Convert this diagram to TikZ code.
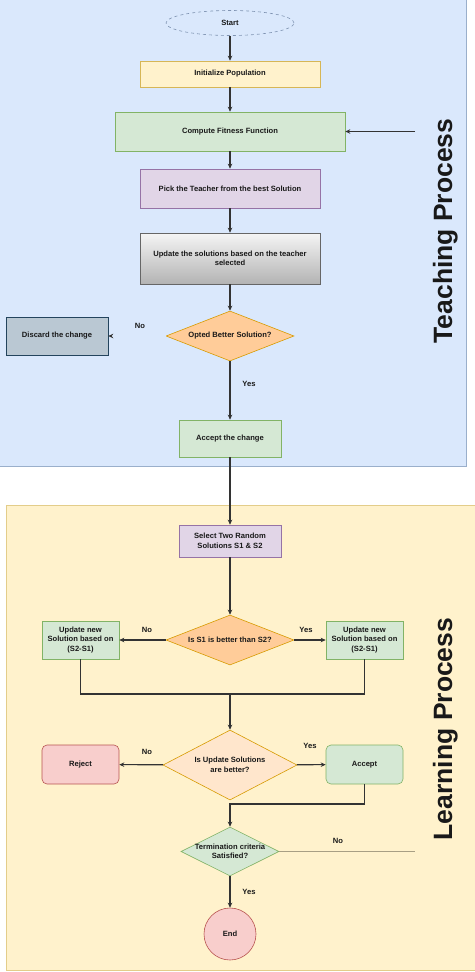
\documentclass[tikz,border=0pt]{standalone}
\usepackage{fontspec}
\setmainfont{Liberation Sans}
\usetikzlibrary{arrows.meta,positioning,shapes.geometric}
\definecolor{tlteachbg}{HTML}{DAE8FC}
\definecolor{tlteachbd}{HTML}{9AAFCB}
\definecolor{tllearnbg}{HTML}{FFF2CC}
\definecolor{tllearnbd}{HTML}{E3CD8A}
\definecolor{tlyellowbd}{HTML}{D6B656}
\definecolor{tlgreenbg}{HTML}{D5E8D4}
\definecolor{tlgreenbd}{HTML}{82B366}
\definecolor{tlpurplebg}{HTML}{E1D5E7}
\definecolor{tlpurplebd}{HTML}{9673A6}
\definecolor{tlgraytop}{HTML}{F5F5F5}
\definecolor{tlgraybot}{HTML}{B3B3B3}
\definecolor{tlgraybd}{HTML}{666666}
\definecolor{tlorange}{HTML}{FFCC99}
\definecolor{tlpeach}{HTML}{FFE6CC}
\definecolor{tlorangebd}{HTML}{D79B00}
\definecolor{tlslatebg}{HTML}{BAC8D3}
\definecolor{tlslatebd}{HTML}{23445D}
\definecolor{tlredbg}{HTML}{F8CECC}
\definecolor{tlredbd}{HTML}{B85450}
\definecolor{tlline}{HTML}{333333}
\definecolor{tlloop}{HTML}{A89F84}
\definecolor{tlstartbd}{HTML}{7F93B2}

\begin{document}
\begin{tikzpicture}[x=1pt, y=-1pt,
    every node/.style={font=\fontsize{7.6}{9.5}\selectfont\bfseries, text=black!90},
    box/.style={draw, rectangle, line width=0.6pt, align=center, inner sep=1pt},
    decision/.style={draw, diamond, line width=0.6pt, align=center, inner sep=0pt, aspect=2},
    flow/.style={draw=tlline, line width=1.1pt, -{Stealth[length=5pt,width=4.5pt]}},
    wire/.style={draw=tlline, line width=1.1pt},
    ghost/.style={draw=tlteachbg, line width=1.1pt, -{Stealth[length=5pt,width=4.5pt,color=tlline]}},
    lbl/.style={inner sep=0pt},
    title/.style={rotate=90, anchor=base, inner sep=0pt, font=\fontsize{26.5}{30}\selectfont\bfseries}]
      \useasboundingbox (0,0) rectangle (474,972);
      \filldraw[fill=tlteachbg, draw=tlteachbd, line width=0.8pt] (-1,-1) rectangle (466,466);
      \filldraw[fill=tllearnbg, draw=tllearnbd, line width=0.8pt] (6,505) rectangle (480,970);
      \node[title] (teachtitle) at (452,231) {Teaching Process};
      \node[title] (learntitle) at (452,729) {Learning Process};

      \node[draw=tlstartbd, dashed, ellipse, line width=0.6pt, minimum width=128pt, minimum height=25pt, inner sep=0pt] (start) at (230,23) {Start};
      \node[box, fill=tllearnbg, draw=tlyellowbd, minimum width=180pt, minimum height=26pt] (init) at (230,74) {Initialize Population};
      \node[box, fill=tlgreenbg, draw=tlgreenbd, minimum width=230pt, minimum height=39pt] (fitness) at (230,131.5) {Compute Fitness Function};
      \node[box, fill=tlpurplebg, draw=tlpurplebd, minimum width=180pt, minimum height=39pt] (pick) at (230,188.5) {Pick the Teacher from the best Solution};
      \node[box, top color=tlgraytop, bottom color=tlgraybot, draw=tlgraybd, minimum width=180pt, minimum height=51pt] (update) at (230,258.5) {Update the solutions based on the teacher\\selected};
      \node[decision, fill=tlorange, draw=tlorangebd, minimum width=128pt, minimum height=50pt] (opted) at (230,336) {Opted Better Solution?};
      \node[box, fill=tlslatebg, draw=tlslatebd, minimum width=102pt, minimum height=38pt] (discard) at (57,336) {Discard the change};
      \node[box, fill=tlgreenbg, draw=tlgreenbd, minimum width=102pt, minimum height=37pt] (acceptchg) at (230,438.5) {Accept the change};

      \node[box, fill=tlpurplebg, draw=tlpurplebd, minimum width=102pt, minimum height=32pt] (select) at (230,541) {Select Two Random\\Solutions S1 \& S2};
      \node[decision, fill=tlorange, draw=tlorangebd, minimum width=128pt, minimum height=50pt] (isbetter) at (230,640) {Is S1 is better than S2?};
      \node[box, fill=tlgreenbg, draw=tlgreenbd, minimum width=77pt, minimum height=38pt] (leftupd) at (80.5,640) {Update new\\Solution based on\\(S2-S1)};
      \node[box, fill=tlgreenbg, draw=tlgreenbd, minimum width=77pt, minimum height=38pt] (rightupd) at (364.5,640) {Update new\\Solution based on\\(S2-S1)};
      \coordinate (join1) at (230,694);
      \node[decision, fill=tlpeach, draw=tlorangebd, minimum width=134pt, minimum height=70pt] (dia3) at (230,765) {Is Update Solutions\\are better?};
      \node[box, rounded corners=5pt, fill=tlredbg, draw=tlredbd, minimum width=77pt, minimum height=39pt] (reject) at (80.5,764.5) {Reject};
      \node[box, rounded corners=5pt, fill=tlgreenbg, draw=tlgreenbd, minimum width=77pt, minimum height=39pt] (accept) at (364.5,764.5) {Accept};
      \coordinate (join2) at (230,804);
      \node[decision, fill=tlgreenbg, draw=tlgreenbd, minimum width=98pt, minimum height=49pt, label={[align=center]center:Termination criteria\\Satisfied?}] (term) at (230,851.5) {};
      \node[draw=tlredbd, fill=tlredbg, circle, line width=0.6pt, minimum size=52pt, inner sep=0pt] (end) at (230,934) {End};
      \coordinate (loopout) at (415,851.5);
      \coordinate (loopin) at (415,131.5);

      \draw[flow] (start) -- (init);
      \draw[flow] (init) -- (fitness);
      \draw[flow] (fitness) -- (pick);
      \draw[flow] (pick) -- (update);
      \draw[flow] (update) -- (opted);
      \draw[ghost] (opted) -- (discard);
      \draw[flow] (opted) -- (acceptchg);
      \draw[flow] (acceptchg) -- (select);
      \draw[flow] (select) -- (isbetter);
      \draw[flow] (isbetter) -- (leftupd);
      \draw[flow] (isbetter) -- (rightupd);
      \draw[wire] (leftupd) |- (join1) -| (rightupd);
      \draw[flow] (join1) -- (dia3);
      \draw[flow] (dia3) -- (reject);
      \draw[flow] (dia3) -- (accept);
      \draw[flow] (accept) |- (join2) -- (term);
      \draw[flow] (term) -- (end);
      \draw[draw=tlloop, line width=0.7pt] (term) -- (loopout);
      \draw[flow] (loopin) -- (fitness);

      \node[lbl] (nodiscard) at (140,326) {No};
      \node[lbl] (yesaccept) at (249,384) {Yes};
      \node[lbl] (noleft) at (147,630) {No};
      \node[lbl] (yesright) at (306,630) {Yes};
      \node[lbl] (noreject) at (147,752) {No};
      \node[lbl] (yesaccept2) at (310,746) {Yes};
      \node[lbl] (noloop) at (338,841) {No};
      \node[lbl] (yesend) at (249,892) {Yes};
    \end{tikzpicture}
\end{document}
